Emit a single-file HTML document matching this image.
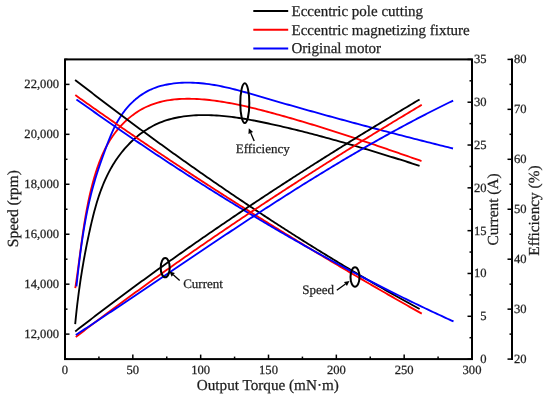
<!DOCTYPE html>
<html><head><meta charset="utf-8"><style>
html,body{margin:0;padding:0;background:#fff;width:550px;height:399px;overflow:hidden}
svg{display:block;text-rendering:geometricPrecision}
</style></head><body>
<svg width="550" height="399" viewBox="0 0 550 399">
<rect width="550" height="399" fill="#fff"/>
<path d="M75.19,324.18 L75.43,321.66 L75.68,319.15 L75.93,316.65 L76.19,314.15 L76.46,311.66 L76.73,309.18 L77.01,306.70 L77.30,304.22 L77.60,301.75 L77.90,299.28 L78.21,296.82 L78.53,294.36 L78.85,291.91 L79.19,289.45 L79.53,287.01 L79.88,284.56 L80.23,282.12 L80.60,279.67 L80.97,277.23 L81.35,274.80 L81.74,272.36 L82.13,269.93 L82.54,267.49 L82.95,265.06 L83.37,262.63 L83.80,260.20 L84.24,257.76 L84.68,255.33 L85.14,252.90 L85.60,250.47 L86.07,248.03 L86.55,245.60 L87.04,243.16 L87.54,240.72 L88.05,238.28 L88.57,235.84 L89.09,233.39 L89.63,230.95 L90.17,228.50 L90.72,226.04 L91.29,223.59 L91.87,221.13 L92.46,218.68 L93.06,216.23 L93.69,213.78 L94.33,211.33 L94.99,208.89 L95.67,206.45 L96.38,204.03 L97.10,201.61 L97.86,199.20 L98.63,196.79 L99.44,194.40 L100.27,192.03 L101.14,189.66 L102.03,187.31 L102.96,184.98 L103.92,182.66 L104.92,180.36 L105.95,178.07 L107.02,175.81 L108.13,173.56 L109.29,171.34 L110.48,169.14 L111.72,166.97 L112.99,164.82 L114.31,162.69 L115.68,160.60 L117.08,158.53 L118.52,156.50 L120.01,154.49 L121.53,152.53 L123.10,150.60 L124.70,148.70 L126.34,146.84 L128.02,145.03 L129.74,143.26 L131.50,141.53 L133.29,139.84 L135.12,138.20 L136.99,136.61 L138.89,135.07 L140.82,133.58 L142.80,132.14 L144.80,130.76 L146.84,129.43 L148.92,128.16 L151.03,126.95 L153.17,125.79 L155.34,124.70 L157.55,123.68 L159.78,122.71 L162.05,121.82 L164.35,120.98 L166.68,120.21 L169.03,119.50 L171.41,118.86 L173.81,118.26 L176.23,117.73 L178.67,117.25 L181.13,116.82 L183.61,116.45 L186.10,116.12 L188.60,115.85 L191.12,115.62 L193.65,115.43 L196.18,115.29 L198.72,115.19 L201.27,115.13 L203.82,115.11 L206.37,115.12 L208.92,115.17 L211.48,115.26 L214.02,115.37 L216.57,115.52 L219.10,115.69 L221.63,115.89 L224.15,116.12 L226.67,116.37 L229.17,116.65 L231.67,116.95 L234.16,117.27 L236.65,117.61 L239.12,117.98 L241.60,118.36 L244.06,118.76 L246.53,119.17 L248.98,119.60 L251.44,120.05 L253.88,120.51 L256.33,120.99 L258.77,121.47 L261.21,121.97 L263.64,122.47 L266.07,122.99 L268.50,123.51 L270.93,124.04 L273.36,124.58 L275.78,125.12 L278.21,125.67 L280.63,126.22 L283.05,126.79 L285.47,127.35 L287.89,127.92 L290.30,128.50 L292.72,129.08 L295.13,129.67 L297.55,130.27 L299.96,130.87 L302.37,131.47 L304.78,132.08 L307.18,132.70 L309.59,133.32 L312.00,133.94 L314.40,134.57 L316.80,135.20 L319.21,135.84 L321.61,136.49 L324.01,137.13 L326.41,137.79 L328.81,138.44 L331.20,139.10 L333.60,139.77 L336.00,140.44 L338.39,141.11 L340.79,141.79 L343.18,142.47 L345.57,143.15 L347.96,143.84 L350.36,144.53 L352.75,145.23 L355.14,145.93 L357.53,146.63 L359.92,147.34 L362.30,148.04 L364.69,148.76 L367.08,149.47 L369.47,150.19 L371.85,150.91 L374.24,151.63 L376.63,152.36 L379.01,153.09 L381.40,153.82 L383.78,154.55 L386.17,155.28 L388.55,156.02 L390.94,156.76 L393.32,157.50 L395.71,158.25 L398.09,159.00 L400.48,159.74 L402.86,160.49 L405.25,161.24 L407.63,162.00 L410.01,162.75 L412.40,163.51 L414.78,164.26 L417.17,165.02 L419.55,165.78" fill="none" stroke="#000" stroke-width="1.85" stroke-linejoin="round"/>
<path d="M75.27,288.10 L75.65,285.68 L76.01,283.26 L76.37,280.84 L76.72,278.42 L77.07,276.00 L77.40,273.58 L77.74,271.16 L78.07,268.74 L78.40,266.31 L78.72,263.89 L79.04,261.47 L79.36,259.05 L79.68,256.63 L80.00,254.20 L80.32,251.78 L80.64,249.36 L80.97,246.94 L81.29,244.52 L81.62,242.10 L81.96,239.68 L82.30,237.26 L82.64,234.84 L82.99,232.42 L83.35,230.00 L83.72,227.58 L84.09,225.17 L84.47,222.75 L84.87,220.33 L85.27,217.92 L85.68,215.51 L86.11,213.09 L86.55,210.68 L87.00,208.27 L87.47,205.86 L87.95,203.45 L88.44,201.05 L88.96,198.64 L89.48,196.24 L90.03,193.83 L90.59,191.43 L91.18,189.03 L91.78,186.63 L92.40,184.24 L93.04,181.84 L93.71,179.45 L94.40,177.06 L95.11,174.67 L95.84,172.29 L96.61,169.92 L97.40,167.55 L98.23,165.20 L99.08,162.86 L99.97,160.53 L100.89,158.23 L101.86,155.94 L102.86,153.67 L103.90,151.42 L104.98,149.20 L106.10,147.00 L107.27,144.83 L108.49,142.70 L109.75,140.59 L111.07,138.51 L112.43,136.47 L113.84,134.47 L115.30,132.51 L116.81,130.58 L118.37,128.70 L119.96,126.87 L121.61,125.07 L123.30,123.33 L125.03,121.63 L126.80,119.99 L128.61,118.40 L130.46,116.86 L132.36,115.38 L134.29,113.96 L136.26,112.60 L138.26,111.30 L140.30,110.06 L142.38,108.89 L144.48,107.79 L146.63,106.75 L148.80,105.79 L151.01,104.89 L153.24,104.07 L155.50,103.31 L157.79,102.61 L160.11,101.99 L162.45,101.42 L164.81,100.91 L167.19,100.46 L169.59,100.07 L172.01,99.73 L174.44,99.45 L176.89,99.22 L179.36,99.03 L181.83,98.90 L184.32,98.81 L186.82,98.76 L189.32,98.76 L191.83,98.80 L194.35,98.87 L196.87,98.98 L199.39,99.13 L201.91,99.31 L204.43,99.52 L206.95,99.77 L209.46,100.04 L211.97,100.33 L214.47,100.65 L216.97,101.00 L219.45,101.36 L221.93,101.74 L224.39,102.15 L226.84,102.56 L229.28,103.00 L231.72,103.45 L234.14,103.92 L236.55,104.40 L238.96,104.90 L241.36,105.41 L243.75,105.93 L246.14,106.47 L248.52,107.02 L250.90,107.58 L253.27,108.15 L255.63,108.72 L258.00,109.31 L260.36,109.91 L262.71,110.52 L265.07,111.13 L267.42,111.75 L269.78,112.38 L272.13,113.01 L274.48,113.65 L276.83,114.29 L279.18,114.94 L281.53,115.59 L283.88,116.25 L286.23,116.91 L288.58,117.58 L290.93,118.25 L293.28,118.93 L295.62,119.61 L297.97,120.30 L300.32,120.99 L302.66,121.69 L305.01,122.39 L307.35,123.09 L309.70,123.80 L312.04,124.51 L314.39,125.23 L316.73,125.95 L319.07,126.68 L321.41,127.40 L323.75,128.14 L326.09,128.87 L328.43,129.61 L330.77,130.35 L333.11,131.10 L335.45,131.85 L337.79,132.60 L340.12,133.36 L342.46,134.11 L344.80,134.87 L347.13,135.64 L349.47,136.40 L351.80,137.17 L354.13,137.94 L356.47,138.72 L358.80,139.49 L361.13,140.27 L363.46,141.05 L365.79,141.84 L368.12,142.62 L370.45,143.41 L372.78,144.20 L375.10,144.99 L377.43,145.78 L379.75,146.57 L382.08,147.37 L384.40,148.17 L386.73,148.96 L389.05,149.76 L391.37,150.56 L393.69,151.36 L396.01,152.17 L398.33,152.97 L400.65,153.77 L402.97,154.58 L405.29,155.38 L407.61,156.19 L409.92,157.00 L412.24,157.80 L414.55,158.61 L416.86,159.42 L419.18,160.22 L421.49,161.03" fill="none" stroke="#f00" stroke-width="1.85" stroke-linejoin="round"/>
<path d="M76.44,286.29 L76.73,283.66 L77.02,281.03 L77.31,278.40 L77.61,275.76 L77.91,273.12 L78.21,270.48 L78.52,267.84 L78.83,265.20 L79.15,262.56 L79.48,259.91 L79.81,257.27 L80.15,254.63 L80.50,251.98 L80.85,249.34 L81.22,246.70 L81.59,244.05 L81.97,241.41 L82.36,238.77 L82.76,236.14 L83.18,233.50 L83.60,230.87 L84.04,228.24 L84.49,225.61 L84.95,222.99 L85.42,220.37 L85.91,217.75 L86.42,215.14 L86.93,212.53 L87.47,209.92 L88.02,207.32 L88.58,204.72 L89.16,202.13 L89.76,199.55 L90.38,196.97 L91.01,194.40 L91.67,191.83 L92.34,189.27 L93.03,186.71 L93.74,184.17 L94.48,181.63 L95.23,179.10 L96.01,176.57 L96.80,174.05 L97.61,171.54 L98.44,169.03 L99.29,166.52 L100.15,164.01 L101.03,161.50 L101.91,159.00 L102.81,156.49 L103.72,153.97 L104.63,151.45 L105.56,148.93 L106.49,146.40 L107.44,143.87 L108.40,141.35 L109.39,138.83 L110.40,136.33 L111.45,133.84 L112.54,131.37 L113.66,128.92 L114.84,126.50 L116.06,124.12 L117.35,121.77 L118.69,119.46 L120.10,117.20 L121.57,114.98 L123.11,112.82 L124.70,110.70 L126.36,108.65 L128.08,106.65 L129.86,104.72 L131.69,102.85 L133.59,101.06 L135.54,99.33 L137.56,97.68 L139.63,96.11 L141.75,94.62 L143.93,93.21 L146.17,91.89 L148.46,90.66 L150.80,89.53 L153.20,88.49 L155.65,87.55 L158.15,86.71 L160.70,85.96 L163.28,85.30 L165.89,84.72 L168.53,84.22 L171.19,83.80 L173.87,83.44 L176.57,83.16 L179.27,82.93 L181.99,82.78 L184.71,82.68 L187.44,82.64 L190.17,82.66 L192.89,82.74 L195.61,82.86 L198.31,83.04 L201.01,83.26 L203.69,83.53 L206.35,83.84 L209.01,84.19 L211.65,84.58 L214.28,85.00 L216.89,85.46 L219.50,85.96 L222.10,86.48 L224.69,87.04 L227.27,87.62 L229.84,88.22 L232.41,88.85 L234.97,89.50 L237.52,90.16 L240.07,90.85 L242.62,91.54 L245.16,92.25 L247.70,92.97 L250.24,93.70 L252.78,94.44 L255.32,95.18 L257.85,95.92 L260.39,96.66 L262.93,97.41 L265.47,98.15 L268.01,98.89 L270.56,99.62 L273.10,100.36 L275.65,101.10 L278.20,101.83 L280.75,102.56 L283.30,103.30 L285.85,104.03 L288.40,104.76 L290.96,105.48 L293.51,106.21 L296.07,106.93 L298.63,107.66 L301.18,108.38 L303.74,109.10 L306.31,109.82 L308.87,110.54 L311.43,111.26 L313.99,111.97 L316.56,112.69 L319.12,113.40 L321.69,114.11 L324.26,114.82 L326.83,115.53 L329.40,116.24 L331.96,116.95 L334.53,117.65 L337.11,118.35 L339.68,119.06 L342.25,119.76 L344.82,120.46 L347.40,121.15 L349.97,121.85 L352.54,122.54 L355.12,123.24 L357.69,123.93 L360.27,124.62 L362.85,125.31 L365.42,126.00 L368.00,126.68 L370.57,127.37 L373.15,128.05 L375.73,128.74 L378.31,129.42 L380.88,130.09 L383.46,130.77 L386.04,131.45 L388.62,132.12 L391.20,132.80 L393.77,133.47 L396.35,134.14 L398.93,134.81 L401.51,135.47 L404.09,136.14 L406.66,136.80 L409.24,137.47 L411.82,138.13 L414.40,138.79 L416.97,139.44 L419.55,140.10 L422.13,140.76 L424.70,141.41 L427.28,142.06 L429.85,142.71 L432.43,143.36 L435.00,144.01 L437.57,144.65 L440.15,145.30 L442.72,145.94 L445.29,146.58 L447.86,147.22 L450.43,147.86 L453.01,148.49" fill="none" stroke="#00f" stroke-width="1.85" stroke-linejoin="round"/>
<path d="M75.08,79.91 L76.72,81.18 L78.37,82.46 L80.01,83.73 L81.66,85.00 L83.31,86.27 L84.96,87.54 L86.60,88.81 L88.25,90.08 L89.90,91.35 L91.56,92.61 L93.21,93.88 L94.86,95.14 L96.51,96.40 L98.17,97.67 L99.82,98.93 L101.48,100.19 L103.13,101.45 L104.79,102.71 L106.45,103.96 L108.11,105.22 L109.77,106.47 L111.43,107.73 L113.09,108.98 L114.75,110.23 L116.42,111.49 L118.08,112.74 L119.74,113.99 L121.41,115.23 L123.08,116.48 L124.74,117.73 L126.41,118.97 L128.08,120.22 L129.75,121.46 L131.42,122.70 L133.09,123.94 L134.76,125.18 L136.44,126.42 L138.11,127.66 L139.79,128.89 L141.46,130.13 L143.14,131.36 L144.82,132.60 L146.49,133.83 L148.17,135.06 L149.85,136.29 L151.53,137.52 L153.21,138.75 L154.90,139.97 L156.58,141.20 L158.26,142.42 L159.95,143.65 L161.63,144.87 L163.32,146.09 L165.01,147.31 L166.70,148.53 L168.39,149.74 L170.08,150.96 L171.77,152.17 L173.46,153.39 L175.15,154.60 L176.84,155.81 L178.54,157.02 L180.23,158.23 L181.93,159.44 L183.63,160.64 L185.33,161.85 L187.02,163.05 L188.72,164.26 L190.42,165.46 L192.13,166.66 L193.83,167.86 L195.53,169.05 L197.24,170.25 L198.94,171.45 L200.65,172.64 L202.35,173.83 L204.06,175.02 L205.77,176.21 L207.48,177.40 L209.19,178.59 L210.90,179.77 L212.61,180.96 L214.33,182.14 L216.04,183.33 L217.76,184.51 L219.47,185.69 L221.19,186.86 L222.91,188.04 L224.62,189.22 L226.34,190.39 L228.06,191.56 L229.79,192.73 L231.51,193.90 L233.23,195.07 L234.96,196.24 L236.68,197.40 L238.41,198.57 L240.13,199.73 L241.86,200.89 L243.59,202.05 L245.32,203.21 L247.05,204.37 L248.78,205.52 L250.51,206.68 L252.25,207.83 L253.98,208.98 L255.72,210.13 L257.45,211.28 L259.19,212.43 L260.93,213.58 L262.67,214.72 L264.41,215.86 L266.15,217.00 L267.89,218.14 L269.64,219.28 L271.38,220.42 L273.12,221.55 L274.87,222.69 L276.62,223.82 L278.36,224.95 L280.11,226.08 L281.86,227.21 L283.61,228.33 L285.37,229.46 L287.12,230.58 L288.87,231.70 L290.63,232.82 L292.38,233.94 L294.14,235.06 L295.90,236.17 L297.65,237.29 L299.41,238.40 L301.17,239.51 L302.94,240.62 L304.70,241.73 L306.46,242.83 L308.23,243.94 L309.99,245.04 L311.76,246.14 L313.53,247.24 L315.29,248.34 L317.06,249.44 L318.83,250.53 L320.61,251.62 L322.38,252.71 L324.15,253.80 L325.93,254.89 L327.70,255.98 L329.48,257.06 L331.26,258.15 L333.03,259.23 L334.81,260.31 L336.59,261.38 L338.38,262.46 L340.16,263.53 L341.94,264.61 L343.73,265.68 L345.51,266.75 L347.30,267.82 L349.09,268.88 L350.87,269.95 L352.66,271.01 L354.46,272.07 L356.25,273.13 L358.04,274.19 L359.83,275.24 L361.63,276.29 L363.42,277.35 L365.22,278.40 L367.02,279.45 L368.82,280.49 L370.62,281.54 L372.42,282.58 L374.22,283.62 L376.03,284.66 L377.83,285.70 L379.64,286.73 L381.44,287.77 L383.25,288.80 L385.06,289.83 L386.87,290.86 L388.68,291.89 L390.49,292.91 L392.30,293.93 L394.12,294.96 L395.93,295.97 L397.75,296.99 L399.56,298.01 L401.38,299.02 L403.20,300.03 L405.02,301.04 L406.84,302.05 L408.67,303.06 L410.49,304.06 L412.31,305.06 L414.14,306.06 L415.97,307.06 L417.80,308.06 L419.62,309.05" fill="none" stroke="#000" stroke-width="1.85" stroke-linejoin="round"/>
<path d="M75.32,95.07 L76.99,96.27 L78.67,97.46 L80.35,98.66 L82.03,99.85 L83.71,101.04 L85.39,102.23 L87.07,103.42 L88.75,104.61 L90.44,105.79 L92.12,106.98 L93.80,108.16 L95.49,109.35 L97.18,110.53 L98.86,111.71 L100.55,112.89 L102.24,114.07 L103.93,115.25 L105.62,116.43 L107.31,117.61 L109.00,118.78 L110.69,119.96 L112.38,121.13 L114.08,122.30 L115.77,123.47 L117.46,124.64 L119.16,125.81 L120.86,126.98 L122.55,128.15 L124.25,129.32 L125.95,130.48 L127.65,131.64 L129.35,132.81 L131.05,133.97 L132.75,135.13 L134.45,136.29 L136.15,137.45 L137.86,138.61 L139.56,139.76 L141.26,140.92 L142.97,142.08 L144.67,143.23 L146.38,144.38 L148.09,145.53 L149.80,146.68 L151.50,147.83 L153.21,148.98 L154.92,150.13 L156.63,151.28 L158.35,152.42 L160.06,153.57 L161.77,154.71 L163.48,155.85 L165.20,157.00 L166.91,158.14 L168.63,159.28 L170.34,160.42 L172.06,161.55 L173.78,162.69 L175.49,163.83 L177.21,164.96 L178.93,166.09 L180.65,167.23 L182.37,168.36 L184.09,169.49 L185.82,170.62 L187.54,171.75 L189.26,172.88 L190.99,174.00 L192.71,175.13 L194.43,176.25 L196.16,177.38 L197.89,178.50 L199.61,179.62 L201.34,180.74 L203.07,181.86 L204.80,182.98 L206.53,184.10 L208.26,185.22 L209.99,186.33 L211.72,187.45 L213.45,188.56 L215.19,189.68 L216.92,190.79 L218.65,191.90 L220.39,193.01 L222.12,194.12 L223.86,195.23 L225.59,196.34 L227.33,197.44 L229.07,198.55 L230.81,199.65 L232.55,200.76 L234.28,201.86 L236.02,202.96 L237.76,204.06 L239.51,205.16 L241.25,206.26 L242.99,207.36 L244.73,208.46 L246.48,209.55 L248.22,210.65 L249.97,211.74 L251.71,212.84 L253.46,213.93 L255.20,215.02 L256.95,216.11 L258.70,217.20 L260.45,218.29 L262.20,219.38 L263.94,220.46 L265.69,221.55 L267.45,222.64 L269.20,223.72 L270.95,224.80 L272.70,225.89 L274.45,226.97 L276.21,228.05 L277.96,229.13 L279.71,230.21 L281.47,231.28 L283.23,232.36 L284.98,233.44 L286.74,234.51 L288.50,235.59 L290.25,236.66 L292.01,237.73 L293.77,238.80 L295.53,239.87 L297.29,240.94 L299.05,242.01 L300.81,243.08 L302.57,244.15 L304.34,245.21 L306.10,246.28 L307.86,247.34 L309.63,248.41 L311.39,249.47 L313.16,250.53 L314.92,251.59 L316.69,252.65 L318.45,253.71 L320.22,254.77 L321.99,255.82 L323.76,256.88 L325.52,257.94 L327.29,258.99 L329.06,260.04 L330.83,261.10 L332.60,262.15 L334.38,263.20 L336.15,264.25 L337.92,265.30 L339.69,266.35 L341.47,267.40 L343.24,268.44 L345.01,269.49 L346.79,270.53 L348.56,271.58 L350.34,272.62 L352.12,273.66 L353.89,274.71 L355.67,275.75 L357.45,276.79 L359.23,277.83 L361.00,278.86 L362.78,279.90 L364.56,280.94 L366.34,281.97 L368.12,283.01 L369.90,284.04 L371.69,285.08 L373.47,286.11 L375.25,287.14 L377.03,288.17 L378.82,289.20 L380.60,290.23 L382.39,291.26 L384.17,292.28 L385.96,293.31 L387.74,294.34 L389.53,295.36 L391.32,296.39 L393.10,297.41 L394.89,298.43 L396.68,299.45 L398.47,300.47 L400.26,301.49 L402.05,302.51 L403.84,303.53 L405.63,304.55 L407.42,305.57 L409.21,306.58 L411.00,307.60 L412.79,308.61 L414.59,309.62 L416.38,310.64 L418.17,311.65 L419.97,312.66 L421.76,313.67" fill="none" stroke="#f00" stroke-width="1.85" stroke-linejoin="round"/>
<path d="M76.45,99.39 L78.24,100.67 L80.04,101.95 L81.83,103.22 L83.62,104.50 L85.42,105.77 L87.21,107.04 L89.01,108.31 L90.81,109.58 L92.60,110.85 L94.40,112.12 L96.20,113.38 L98.01,114.65 L99.81,115.91 L101.61,117.17 L103.42,118.43 L105.22,119.69 L107.03,120.95 L108.84,122.21 L110.64,123.46 L112.45,124.72 L114.26,125.97 L116.08,127.22 L117.89,128.47 L119.70,129.72 L121.52,130.97 L123.33,132.21 L125.15,133.46 L126.97,134.70 L128.79,135.94 L130.60,137.19 L132.43,138.42 L134.25,139.66 L136.07,140.90 L137.89,142.13 L139.72,143.37 L141.54,144.60 L143.37,145.83 L145.20,147.06 L147.03,148.29 L148.86,149.51 L150.69,150.74 L152.52,151.96 L154.35,153.18 L156.19,154.40 L158.02,155.62 L159.86,156.84 L161.69,158.06 L163.53,159.27 L165.37,160.48 L167.21,161.69 L169.05,162.90 L170.89,164.11 L172.74,165.32 L174.58,166.52 L176.43,167.73 L178.27,168.93 L180.12,170.13 L181.97,171.33 L183.82,172.53 L185.67,173.72 L187.52,174.92 L189.37,176.11 L191.23,177.30 L193.08,178.49 L194.94,179.68 L196.79,180.86 L198.65,182.05 L200.51,183.23 L202.37,184.41 L204.23,185.59 L206.09,186.77 L207.96,187.95 L209.82,189.12 L211.69,190.29 L213.55,191.46 L215.42,192.63 L217.29,193.80 L219.16,194.97 L221.03,196.13 L222.90,197.29 L224.77,198.46 L226.65,199.61 L228.52,200.77 L230.40,201.93 L232.27,203.08 L234.15,204.23 L236.03,205.38 L237.91,206.53 L239.79,207.68 L241.68,208.83 L243.56,209.97 L245.44,211.11 L247.33,212.25 L249.22,213.39 L251.10,214.52 L252.99,215.66 L254.88,216.79 L256.77,217.92 L258.66,219.05 L260.56,220.18 L262.45,221.30 L264.35,222.42 L266.24,223.55 L268.14,224.67 L270.04,225.78 L271.94,226.90 L273.84,228.01 L275.74,229.12 L277.64,230.23 L279.55,231.34 L281.45,232.45 L283.36,233.55 L285.27,234.65 L287.18,235.75 L289.09,236.85 L291.00,237.95 L292.91,239.04 L294.82,240.14 L296.73,241.23 L298.65,242.31 L300.57,243.40 L302.48,244.49 L304.40,245.57 L306.32,246.65 L308.24,247.73 L310.16,248.80 L312.09,249.88 L314.01,250.95 L315.94,252.02 L317.86,253.09 L319.79,254.15 L321.72,255.22 L323.65,256.28 L325.58,257.34 L327.51,258.40 L329.44,259.45 L331.38,260.51 L333.31,261.56 L335.25,262.61 L337.18,263.66 L339.12,264.70 L341.06,265.74 L343.00,266.78 L344.95,267.82 L346.89,268.86 L348.83,269.89 L350.78,270.93 L352.72,271.96 L354.67,272.98 L356.62,274.01 L358.57,275.03 L360.52,276.06 L362.47,277.07 L364.43,278.09 L366.38,279.11 L368.34,280.12 L370.29,281.13 L372.25,282.14 L374.21,283.14 L376.17,284.15 L378.13,285.15 L380.09,286.15 L382.06,287.14 L384.02,288.14 L385.99,289.13 L387.96,290.12 L389.92,291.11 L391.89,292.09 L393.86,293.08 L395.84,294.06 L397.81,295.03 L399.78,296.01 L401.76,296.98 L403.73,297.96 L405.71,298.92 L407.69,299.89 L409.67,300.86 L411.65,301.82 L413.63,302.78 L415.62,303.73 L417.60,304.69 L419.59,305.64 L421.57,306.59 L423.56,307.54 L425.55,308.48 L427.54,309.43 L429.53,310.37 L431.53,311.30 L433.52,312.24 L435.51,313.17 L437.51,314.10 L439.51,315.03 L441.51,315.96 L443.51,316.88 L445.51,317.80 L447.51,318.72 L449.51,319.63 L451.52,320.55 L453.52,321.46" fill="none" stroke="#00f" stroke-width="1.85" stroke-linejoin="round"/>
<path d="M75.25,331.40 L76.89,330.12 L78.54,328.84 L80.19,327.56 L81.84,326.28 L83.50,325.00 L85.15,323.72 L86.80,322.45 L88.46,321.18 L90.11,319.90 L91.77,318.63 L93.43,317.36 L95.09,316.09 L96.75,314.83 L98.41,313.56 L100.07,312.30 L101.74,311.03 L103.40,309.77 L105.06,308.51 L106.73,307.25 L108.40,305.99 L110.06,304.74 L111.73,303.48 L113.40,302.23 L115.07,300.97 L116.75,299.72 L118.42,298.47 L120.09,297.22 L121.77,295.98 L123.44,294.73 L125.12,293.49 L126.79,292.24 L128.47,291.00 L130.15,289.76 L131.83,288.52 L133.51,287.28 L135.19,286.05 L136.88,284.81 L138.56,283.58 L140.24,282.34 L141.93,281.11 L143.62,279.88 L145.30,278.65 L146.99,277.42 L148.68,276.19 L150.37,274.97 L152.06,273.74 L153.75,272.52 L155.45,271.30 L157.14,270.08 L158.83,268.86 L160.53,267.64 L162.23,266.42 L163.92,265.21 L165.62,263.99 L167.32,262.78 L169.02,261.57 L170.72,260.36 L172.42,259.15 L174.12,257.94 L175.82,256.73 L177.53,255.53 L179.23,254.32 L180.94,253.12 L182.65,251.92 L184.35,250.72 L186.06,249.52 L187.77,248.32 L189.48,247.12 L191.19,245.92 L192.90,244.73 L194.61,243.53 L196.33,242.34 L198.04,241.15 L199.75,239.96 L201.47,238.77 L203.19,237.58 L204.90,236.39 L206.62,235.21 L208.34,234.02 L210.06,232.84 L211.78,231.66 L213.50,230.48 L215.22,229.30 L216.94,228.12 L218.67,226.94 L220.39,225.76 L222.12,224.59 L223.84,223.41 L225.57,222.24 L227.30,221.07 L229.02,219.90 L230.75,218.73 L232.48,217.56 L234.21,216.39 L235.94,215.22 L237.68,214.06 L239.41,212.89 L241.14,211.73 L242.88,210.57 L244.61,209.41 L246.35,208.25 L248.08,207.09 L249.82,205.93 L251.56,204.77 L253.30,203.62 L255.03,202.46 L256.77,201.31 L258.51,200.16 L260.26,199.01 L262.00,197.86 L263.74,196.71 L265.48,195.56 L267.23,194.41 L268.97,193.27 L270.72,192.12 L272.47,190.98 L274.21,189.84 L275.96,188.69 L277.71,187.55 L279.46,186.41 L281.21,185.27 L282.96,184.14 L284.71,183.00 L286.46,181.86 L288.21,180.73 L289.97,179.60 L291.72,178.46 L293.48,177.33 L295.23,176.20 L296.99,175.07 L298.74,173.95 L300.50,172.82 L302.26,171.69 L304.02,170.57 L305.78,169.44 L307.53,168.32 L309.30,167.20 L311.06,166.07 L312.82,164.95 L314.58,163.83 L316.34,162.72 L318.11,161.60 L319.87,160.48 L321.64,159.37 L323.40,158.25 L325.17,157.14 L326.93,156.03 L328.70,154.92 L330.47,153.80 L332.24,152.69 L334.01,151.59 L335.78,150.48 L337.55,149.37 L339.32,148.27 L341.09,147.16 L342.86,146.06 L344.63,144.95 L346.41,143.85 L348.18,142.75 L349.96,141.65 L351.73,140.55 L353.51,139.45 L355.28,138.36 L357.06,137.26 L358.84,136.16 L360.61,135.07 L362.39,133.97 L364.17,132.88 L365.95,131.79 L367.73,130.70 L369.51,129.61 L371.29,128.52 L373.08,127.43 L374.86,126.34 L376.64,125.26 L378.42,124.17 L380.21,123.09 L381.99,122.00 L383.78,120.92 L385.56,119.84 L387.35,118.75 L389.14,117.67 L390.92,116.59 L392.71,115.52 L394.50,114.44 L396.29,113.36 L398.08,112.28 L399.87,111.21 L401.66,110.13 L403.45,109.06 L405.24,107.99 L407.03,106.92 L408.82,105.85 L410.61,104.78 L412.41,103.71 L414.20,102.64 L416.00,101.57 L417.79,100.50 L419.59,99.44" fill="none" stroke="#000" stroke-width="1.85" stroke-linejoin="round"/>
<path d="M75.77,337.00 L77.44,335.72 L79.10,334.45 L80.76,333.18 L82.43,331.91 L84.10,330.64 L85.76,329.37 L87.43,328.10 L89.10,326.83 L90.77,325.57 L92.44,324.30 L94.11,323.04 L95.79,321.78 L97.46,320.52 L99.13,319.26 L100.81,318.00 L102.49,316.75 L104.16,315.49 L105.84,314.24 L107.52,312.98 L109.20,311.73 L110.88,310.48 L112.56,309.23 L114.25,307.98 L115.93,306.73 L117.61,305.49 L119.30,304.24 L120.98,303.00 L122.67,301.76 L124.36,300.52 L126.05,299.28 L127.74,298.04 L129.43,296.80 L131.12,295.56 L132.81,294.33 L134.50,293.09 L136.20,291.86 L137.89,290.63 L139.59,289.40 L141.28,288.17 L142.98,286.94 L144.68,285.71 L146.37,284.49 L148.07,283.26 L149.77,282.04 L151.48,280.81 L153.18,279.59 L154.88,278.37 L156.58,277.15 L158.29,275.93 L159.99,274.72 L161.70,273.50 L163.41,272.29 L165.11,271.07 L166.82,269.86 L168.53,268.65 L170.24,267.44 L171.95,266.23 L173.66,265.02 L175.37,263.82 L177.09,262.61 L178.80,261.41 L180.52,260.20 L182.23,259.00 L183.95,257.80 L185.66,256.60 L187.38,255.40 L189.10,254.20 L190.82,253.00 L192.54,251.81 L194.26,250.61 L195.98,249.42 L197.70,248.23 L199.43,247.03 L201.15,245.84 L202.88,244.65 L204.60,243.47 L206.33,242.28 L208.05,241.09 L209.78,239.91 L211.51,238.72 L213.24,237.54 L214.97,236.36 L216.70,235.18 L218.43,234.00 L220.16,232.82 L221.89,231.64 L223.63,230.47 L225.36,229.29 L227.10,228.12 L228.83,226.94 L230.57,225.77 L232.31,224.60 L234.04,223.43 L235.78,222.26 L237.52,221.09 L239.26,219.92 L241.00,218.76 L242.74,217.59 L244.48,216.43 L246.23,215.26 L247.97,214.10 L249.71,212.94 L251.46,211.78 L253.20,210.62 L254.95,209.46 L256.69,208.31 L258.44,207.15 L260.19,206.00 L261.94,204.84 L263.69,203.69 L265.44,202.54 L267.19,201.39 L268.94,200.24 L270.69,199.09 L272.44,197.94 L274.20,196.79 L275.95,195.65 L277.71,194.50 L279.46,193.36 L281.22,192.21 L282.97,191.07 L284.73,189.93 L286.49,188.79 L288.25,187.65 L290.00,186.51 L291.76,185.38 L293.52,184.24 L295.29,183.11 L297.05,181.97 L298.81,180.84 L300.57,179.70 L302.33,178.57 L304.10,177.44 L305.86,176.31 L307.63,175.18 L309.39,174.06 L311.16,172.93 L312.93,171.80 L314.70,170.68 L316.46,169.56 L318.23,168.43 L320.00,167.31 L321.77,166.19 L323.54,165.07 L325.31,163.95 L327.08,162.83 L328.86,161.71 L330.63,160.60 L332.40,159.48 L334.18,158.37 L335.95,157.25 L337.73,156.14 L339.50,155.03 L341.28,153.92 L343.06,152.81 L344.83,151.70 L346.61,150.59 L348.39,149.48 L350.17,148.38 L351.95,147.27 L353.73,146.17 L355.51,145.06 L357.29,143.96 L359.07,142.86 L360.85,141.76 L362.64,140.66 L364.42,139.56 L366.20,138.46 L367.99,137.36 L369.77,136.26 L371.56,135.17 L373.34,134.07 L375.13,132.98 L376.92,131.89 L378.71,130.79 L380.49,129.70 L382.28,128.61 L384.07,127.52 L385.86,126.43 L387.65,125.34 L389.44,124.26 L391.23,123.17 L393.02,122.08 L394.82,121.00 L396.61,119.92 L398.40,118.83 L400.20,117.75 L401.99,116.67 L403.78,115.59 L405.58,114.51 L407.37,113.43 L409.17,112.35 L410.97,111.27 L412.76,110.20 L414.56,109.12 L416.36,108.05 L418.16,106.97 L419.96,105.90 L421.75,104.83" fill="none" stroke="#f00" stroke-width="1.85" stroke-linejoin="round"/>
<path d="M75.80,335.02 L77.67,333.79 L79.53,332.57 L81.40,331.34 L83.26,330.12 L85.13,328.89 L86.99,327.66 L88.85,326.43 L90.71,325.20 L92.57,323.97 L94.43,322.74 L96.29,321.51 L98.15,320.27 L100.01,319.04 L101.87,317.80 L103.73,316.56 L105.59,315.33 L107.45,314.09 L109.31,312.85 L111.16,311.61 L113.02,310.37 L114.88,309.13 L116.73,307.89 L118.59,306.65 L120.44,305.40 L122.30,304.16 L124.15,302.91 L126.01,301.67 L127.86,300.42 L129.72,299.18 L131.57,297.93 L133.43,296.69 L135.28,295.44 L137.13,294.19 L138.99,292.95 L140.84,291.70 L142.70,290.45 L144.55,289.20 L146.40,287.95 L148.25,286.70 L150.11,285.45 L151.96,284.20 L153.81,282.95 L155.67,281.70 L157.52,280.45 L159.37,279.20 L161.23,277.95 L163.08,276.70 L164.93,275.45 L166.78,274.20 L168.64,272.95 L170.49,271.70 L172.34,270.45 L174.20,269.20 L176.05,267.95 L177.90,266.70 L179.76,265.46 L181.61,264.21 L183.47,262.96 L185.32,261.71 L187.18,260.46 L189.03,259.21 L190.89,257.96 L192.74,256.72 L194.60,255.47 L196.45,254.22 L198.31,252.98 L200.16,251.73 L202.02,250.48 L203.88,249.24 L205.74,248.00 L207.59,246.75 L209.45,245.51 L211.31,244.27 L213.17,243.02 L215.03,241.78 L216.89,240.54 L218.75,239.30 L220.61,238.06 L222.47,236.82 L224.33,235.58 L226.19,234.35 L228.06,233.11 L229.92,231.87 L231.78,230.64 L233.65,229.41 L235.51,228.17 L237.38,226.94 L239.24,225.71 L241.11,224.48 L242.98,223.25 L244.84,222.02 L246.71,220.79 L248.58,219.57 L250.45,218.34 L252.32,217.12 L254.19,215.90 L256.06,214.68 L257.94,213.45 L259.81,212.24 L261.68,211.02 L263.56,209.80 L265.43,208.59 L267.31,207.37 L269.19,206.16 L271.06,204.95 L272.94,203.74 L274.82,202.53 L276.70,201.32 L278.58,200.12 L280.47,198.91 L282.35,197.71 L284.23,196.51 L286.12,195.31 L288.00,194.11 L289.89,192.91 L291.78,191.72 L293.67,190.53 L295.56,189.33 L297.45,188.14 L299.34,186.96 L301.23,185.77 L303.13,184.58 L305.02,183.40 L306.92,182.22 L308.81,181.04 L310.71,179.86 L312.61,178.69 L314.51,177.52 L316.41,176.34 L318.31,175.17 L320.22,174.01 L322.12,172.84 L324.03,171.68 L325.94,170.52 L327.85,169.36 L329.76,168.20 L331.67,167.04 L333.58,165.89 L335.49,164.74 L337.41,163.59 L339.32,162.44 L341.24,161.30 L343.16,160.16 L345.08,159.02 L347.00,157.88 L348.92,156.75 L350.85,155.61 L352.77,154.48 L354.70,153.36 L356.63,152.23 L358.56,151.11 L360.49,149.99 L362.42,148.87 L364.36,147.75 L366.29,146.64 L368.23,145.53 L370.17,144.42 L372.11,143.32 L374.05,142.22 L376.00,141.12 L377.94,140.02 L379.89,138.93 L381.84,137.83 L383.79,136.75 L385.74,135.66 L387.69,134.58 L389.65,133.50 L391.60,132.42 L393.56,131.35 L395.52,130.27 L397.48,129.21 L399.45,128.14 L401.41,127.08 L403.38,126.02 L405.35,124.96 L407.32,123.91 L409.29,122.86 L411.26,121.81 L413.24,120.77 L415.22,119.73 L417.19,118.69 L419.18,117.65 L421.16,116.62 L423.14,115.60 L425.13,114.57 L427.12,113.55 L429.11,112.53 L431.10,111.52 L433.10,110.51 L435.09,109.50 L437.09,108.49 L439.09,107.49 L441.10,106.50 L443.10,105.50 L445.11,104.51 L447.12,103.52 L449.13,102.54 L451.14,101.56 L453.15,100.59" fill="none" stroke="#00f" stroke-width="1.85" stroke-linejoin="round"/>
<rect x="65" y="59.4" width="407" height="299.70000000000005" fill="none" stroke="#000" stroke-width="2"/>
<line x1="65.00" y1="359.1" x2="65.00" y2="354.6" stroke="#000" stroke-width="1.5"/>
<text x="65.00" y="374.3" text-anchor="middle" font-size="12.6" font-family="Liberation Serif, Times New Roman, serif" fill="#1e1e1e" stroke="#1e1e1e" stroke-width="0.25">0</text>
<line x1="98.92" y1="359.1" x2="98.92" y2="356.6" stroke="#000" stroke-width="1.5"/>
<line x1="132.83" y1="359.1" x2="132.83" y2="354.6" stroke="#000" stroke-width="1.5"/>
<text x="132.83" y="374.3" text-anchor="middle" font-size="12.6" font-family="Liberation Serif, Times New Roman, serif" fill="#1e1e1e" stroke="#1e1e1e" stroke-width="0.25">50</text>
<line x1="166.75" y1="359.1" x2="166.75" y2="356.6" stroke="#000" stroke-width="1.5"/>
<line x1="200.67" y1="359.1" x2="200.67" y2="354.6" stroke="#000" stroke-width="1.5"/>
<text x="200.67" y="374.3" text-anchor="middle" font-size="12.6" font-family="Liberation Serif, Times New Roman, serif" fill="#1e1e1e" stroke="#1e1e1e" stroke-width="0.25">100</text>
<line x1="234.58" y1="359.1" x2="234.58" y2="356.6" stroke="#000" stroke-width="1.5"/>
<line x1="268.50" y1="359.1" x2="268.50" y2="354.6" stroke="#000" stroke-width="1.5"/>
<text x="268.50" y="374.3" text-anchor="middle" font-size="12.6" font-family="Liberation Serif, Times New Roman, serif" fill="#1e1e1e" stroke="#1e1e1e" stroke-width="0.25">150</text>
<line x1="302.42" y1="359.1" x2="302.42" y2="356.6" stroke="#000" stroke-width="1.5"/>
<line x1="336.33" y1="359.1" x2="336.33" y2="354.6" stroke="#000" stroke-width="1.5"/>
<text x="336.33" y="374.3" text-anchor="middle" font-size="12.6" font-family="Liberation Serif, Times New Roman, serif" fill="#1e1e1e" stroke="#1e1e1e" stroke-width="0.25">200</text>
<line x1="370.25" y1="359.1" x2="370.25" y2="356.6" stroke="#000" stroke-width="1.5"/>
<line x1="404.17" y1="359.1" x2="404.17" y2="354.6" stroke="#000" stroke-width="1.5"/>
<text x="404.17" y="374.3" text-anchor="middle" font-size="12.6" font-family="Liberation Serif, Times New Roman, serif" fill="#1e1e1e" stroke="#1e1e1e" stroke-width="0.25">250</text>
<line x1="438.08" y1="359.1" x2="438.08" y2="356.6" stroke="#000" stroke-width="1.5"/>
<line x1="472.00" y1="359.1" x2="472.00" y2="354.6" stroke="#000" stroke-width="1.5"/>
<text x="472.00" y="374.3" text-anchor="middle" font-size="12.6" font-family="Liberation Serif, Times New Roman, serif" fill="#1e1e1e" stroke="#1e1e1e" stroke-width="0.25">300</text>
<line x1="65" y1="359.10" x2="67.5" y2="359.10" stroke="#000" stroke-width="1.5"/>
<line x1="65" y1="334.12" x2="69.5" y2="334.12" stroke="#000" stroke-width="1.5"/>
<text x="59" y="338.12" text-anchor="end" font-size="12.6" font-family="Liberation Serif, Times New Roman, serif" fill="#1e1e1e" stroke="#1e1e1e" stroke-width="0.25">12,000</text>
<line x1="65" y1="309.15" x2="67.5" y2="309.15" stroke="#000" stroke-width="1.5"/>
<line x1="65" y1="284.18" x2="69.5" y2="284.18" stroke="#000" stroke-width="1.5"/>
<text x="59" y="288.18" text-anchor="end" font-size="12.6" font-family="Liberation Serif, Times New Roman, serif" fill="#1e1e1e" stroke="#1e1e1e" stroke-width="0.25">14,000</text>
<line x1="65" y1="259.20" x2="67.5" y2="259.20" stroke="#000" stroke-width="1.5"/>
<line x1="65" y1="234.23" x2="69.5" y2="234.23" stroke="#000" stroke-width="1.5"/>
<text x="59" y="238.23" text-anchor="end" font-size="12.6" font-family="Liberation Serif, Times New Roman, serif" fill="#1e1e1e" stroke="#1e1e1e" stroke-width="0.25">16,000</text>
<line x1="65" y1="209.25" x2="67.5" y2="209.25" stroke="#000" stroke-width="1.5"/>
<line x1="65" y1="184.27" x2="69.5" y2="184.27" stroke="#000" stroke-width="1.5"/>
<text x="59" y="188.27" text-anchor="end" font-size="12.6" font-family="Liberation Serif, Times New Roman, serif" fill="#1e1e1e" stroke="#1e1e1e" stroke-width="0.25">18,000</text>
<line x1="65" y1="159.30" x2="67.5" y2="159.30" stroke="#000" stroke-width="1.5"/>
<line x1="65" y1="134.32" x2="69.5" y2="134.32" stroke="#000" stroke-width="1.5"/>
<text x="59" y="138.32" text-anchor="end" font-size="12.6" font-family="Liberation Serif, Times New Roman, serif" fill="#1e1e1e" stroke="#1e1e1e" stroke-width="0.25">20,000</text>
<line x1="65" y1="109.35" x2="67.5" y2="109.35" stroke="#000" stroke-width="1.5"/>
<line x1="65" y1="84.38" x2="69.5" y2="84.38" stroke="#000" stroke-width="1.5"/>
<text x="59" y="88.38" text-anchor="end" font-size="12.6" font-family="Liberation Serif, Times New Roman, serif" fill="#1e1e1e" stroke="#1e1e1e" stroke-width="0.25">22,000</text>
<line x1="65" y1="59.40" x2="67.5" y2="59.40" stroke="#000" stroke-width="1.5"/>
<line x1="472" y1="359.10" x2="467.5" y2="359.10" stroke="#000" stroke-width="1.5"/>
<text x="486.5" y="363.10" text-anchor="end" font-size="12.6" font-family="Liberation Serif, Times New Roman, serif" fill="#1e1e1e" stroke="#1e1e1e" stroke-width="0.25">0</text>
<line x1="472" y1="337.69" x2="469.5" y2="337.69" stroke="#000" stroke-width="1.5"/>
<line x1="472" y1="316.29" x2="467.5" y2="316.29" stroke="#000" stroke-width="1.5"/>
<text x="486.5" y="320.29" text-anchor="end" font-size="12.6" font-family="Liberation Serif, Times New Roman, serif" fill="#1e1e1e" stroke="#1e1e1e" stroke-width="0.25">5</text>
<line x1="472" y1="294.88" x2="469.5" y2="294.88" stroke="#000" stroke-width="1.5"/>
<line x1="472" y1="273.47" x2="467.5" y2="273.47" stroke="#000" stroke-width="1.5"/>
<text x="486.5" y="277.47" text-anchor="end" font-size="12.6" font-family="Liberation Serif, Times New Roman, serif" fill="#1e1e1e" stroke="#1e1e1e" stroke-width="0.25">10</text>
<line x1="472" y1="252.06" x2="469.5" y2="252.06" stroke="#000" stroke-width="1.5"/>
<line x1="472" y1="230.66" x2="467.5" y2="230.66" stroke="#000" stroke-width="1.5"/>
<text x="486.5" y="234.66" text-anchor="end" font-size="12.6" font-family="Liberation Serif, Times New Roman, serif" fill="#1e1e1e" stroke="#1e1e1e" stroke-width="0.25">15</text>
<line x1="472" y1="209.25" x2="469.5" y2="209.25" stroke="#000" stroke-width="1.5"/>
<line x1="472" y1="187.84" x2="467.5" y2="187.84" stroke="#000" stroke-width="1.5"/>
<text x="486.5" y="191.84" text-anchor="end" font-size="12.6" font-family="Liberation Serif, Times New Roman, serif" fill="#1e1e1e" stroke="#1e1e1e" stroke-width="0.25">20</text>
<line x1="472" y1="166.44" x2="469.5" y2="166.44" stroke="#000" stroke-width="1.5"/>
<line x1="472" y1="145.03" x2="467.5" y2="145.03" stroke="#000" stroke-width="1.5"/>
<text x="486.5" y="149.03" text-anchor="end" font-size="12.6" font-family="Liberation Serif, Times New Roman, serif" fill="#1e1e1e" stroke="#1e1e1e" stroke-width="0.25">25</text>
<line x1="472" y1="123.62" x2="469.5" y2="123.62" stroke="#000" stroke-width="1.5"/>
<line x1="472" y1="102.21" x2="467.5" y2="102.21" stroke="#000" stroke-width="1.5"/>
<text x="486.5" y="106.21" text-anchor="end" font-size="12.6" font-family="Liberation Serif, Times New Roman, serif" fill="#1e1e1e" stroke="#1e1e1e" stroke-width="0.25">30</text>
<line x1="472" y1="80.81" x2="469.5" y2="80.81" stroke="#000" stroke-width="1.5"/>
<line x1="472" y1="59.40" x2="467.5" y2="59.40" stroke="#000" stroke-width="1.5"/>
<text x="486.5" y="63.40" text-anchor="end" font-size="12.6" font-family="Liberation Serif, Times New Roman, serif" fill="#1e1e1e" stroke="#1e1e1e" stroke-width="0.25">35</text>
<line x1="512" y1="58.4" x2="512" y2="360.1" stroke="#000" stroke-width="2"/>
<line x1="512" y1="359.10" x2="507.5" y2="359.10" stroke="#000" stroke-width="1.5"/>
<text x="514" y="363.10" text-anchor="start" font-size="12.6" font-family="Liberation Serif, Times New Roman, serif" fill="#1e1e1e" stroke="#1e1e1e" stroke-width="0.25">20</text>
<line x1="512" y1="334.12" x2="509.5" y2="334.12" stroke="#000" stroke-width="1.5"/>
<line x1="512" y1="309.15" x2="507.5" y2="309.15" stroke="#000" stroke-width="1.5"/>
<text x="514" y="313.15" text-anchor="start" font-size="12.6" font-family="Liberation Serif, Times New Roman, serif" fill="#1e1e1e" stroke="#1e1e1e" stroke-width="0.25">30</text>
<line x1="512" y1="284.18" x2="509.5" y2="284.18" stroke="#000" stroke-width="1.5"/>
<line x1="512" y1="259.20" x2="507.5" y2="259.20" stroke="#000" stroke-width="1.5"/>
<text x="514" y="263.20" text-anchor="start" font-size="12.6" font-family="Liberation Serif, Times New Roman, serif" fill="#1e1e1e" stroke="#1e1e1e" stroke-width="0.25">40</text>
<line x1="512" y1="234.23" x2="509.5" y2="234.23" stroke="#000" stroke-width="1.5"/>
<line x1="512" y1="209.25" x2="507.5" y2="209.25" stroke="#000" stroke-width="1.5"/>
<text x="514" y="213.25" text-anchor="start" font-size="12.6" font-family="Liberation Serif, Times New Roman, serif" fill="#1e1e1e" stroke="#1e1e1e" stroke-width="0.25">50</text>
<line x1="512" y1="184.28" x2="509.5" y2="184.28" stroke="#000" stroke-width="1.5"/>
<line x1="512" y1="159.30" x2="507.5" y2="159.30" stroke="#000" stroke-width="1.5"/>
<text x="514" y="163.30" text-anchor="start" font-size="12.6" font-family="Liberation Serif, Times New Roman, serif" fill="#1e1e1e" stroke="#1e1e1e" stroke-width="0.25">60</text>
<line x1="512" y1="134.32" x2="509.5" y2="134.32" stroke="#000" stroke-width="1.5"/>
<line x1="512" y1="109.35" x2="507.5" y2="109.35" stroke="#000" stroke-width="1.5"/>
<text x="514" y="113.35" text-anchor="start" font-size="12.6" font-family="Liberation Serif, Times New Roman, serif" fill="#1e1e1e" stroke="#1e1e1e" stroke-width="0.25">70</text>
<line x1="512" y1="84.37" x2="509.5" y2="84.37" stroke="#000" stroke-width="1.5"/>
<line x1="512" y1="59.40" x2="507.5" y2="59.40" stroke="#000" stroke-width="1.5"/>
<text x="514" y="63.40" text-anchor="start" font-size="12.6" font-family="Liberation Serif, Times New Roman, serif" fill="#1e1e1e" stroke="#1e1e1e" stroke-width="0.25">80</text>
<text x="267.8" y="389.8" text-anchor="middle" font-size="15.2" font-family="Liberation Serif, Times New Roman, serif" fill="#1e1e1e" stroke="#1e1e1e" stroke-width="0.25">Output Torque (mN·m)</text>
<text transform="translate(17.8,208.7) rotate(-90)" text-anchor="middle" font-size="15.5" font-family="Liberation Serif, Times New Roman, serif" fill="#1e1e1e" stroke="#1e1e1e" stroke-width="0.25">Speed (rpm)</text>
<text transform="translate(498.4,209.4) rotate(-90)" text-anchor="middle" font-size="15.4" font-family="Liberation Serif, Times New Roman, serif" fill="#1e1e1e" stroke="#1e1e1e" stroke-width="0.25">Current (A)</text>
<text transform="translate(538.6,210.6) rotate(-90)" text-anchor="middle" font-size="15.3" font-family="Liberation Serif, Times New Roman, serif" fill="#1e1e1e" stroke="#1e1e1e" stroke-width="0.25">Efficiency (%)</text>
<line x1="253.3" y1="11.00" x2="288.2" y2="11.00" stroke="#000" stroke-width="2"/>
<text x="291.5" y="16.00" font-size="15" font-family="Liberation Serif, Times New Roman, serif" fill="#1e1e1e" stroke="#1e1e1e" stroke-width="0.25">Eccentric pole cutting</text>
<line x1="253.3" y1="29.70" x2="288.2" y2="29.70" stroke="#f00" stroke-width="2"/>
<text x="291.5" y="34.70" font-size="15" font-family="Liberation Serif, Times New Roman, serif" fill="#1e1e1e" stroke="#1e1e1e" stroke-width="0.25">Eccentric magnetizing fixture</text>
<line x1="253.3" y1="48.40" x2="288.2" y2="48.40" stroke="#00f" stroke-width="2"/>
<text x="291.5" y="53.40" font-size="15" font-family="Liberation Serif, Times New Roman, serif" fill="#1e1e1e" stroke="#1e1e1e" stroke-width="0.25">Original motor</text>
<ellipse cx="244.8" cy="103.2" rx="4.5" ry="19.9" fill="none" stroke="#000" stroke-width="2"/>
<line x1="254.2" y1="141" x2="250.76" y2="132.90" stroke="#000" stroke-width="1.3"/>
<polygon points="248.8,128.3 253.06,131.92 248.46,133.88" fill="#000"/>
<text x="235.8" y="152.6" font-size="13" font-family="Liberation Serif, Times New Roman, serif" fill="#1e1e1e" stroke="#1e1e1e" stroke-width="0.25">Efficiency</text>
<ellipse cx="165.2" cy="267.7" rx="4.5" ry="9.6" fill="none" stroke="#000" stroke-width="2"/>
<line x1="179.7" y1="280.5" x2="173.25" y2="274.81" stroke="#000" stroke-width="1.3"/>
<polygon points="169.5,271.5 174.90,272.93 171.60,276.68" fill="#000"/>
<text x="183.2" y="287.9" font-size="13" font-family="Liberation Serif, Times New Roman, serif" fill="#1e1e1e" stroke="#1e1e1e" stroke-width="0.25">Current</text>
<ellipse cx="355" cy="277" rx="4.5" ry="9.7" fill="none" stroke="#000" stroke-width="2"/>
<line x1="336.8" y1="290.3" x2="345.45" y2="284.03" stroke="#000" stroke-width="1.3"/>
<polygon points="349.5,281.1 346.92,286.06 343.98,282.01" fill="#000"/>
<text x="302.2" y="293.9" font-size="13" font-family="Liberation Serif, Times New Roman, serif" fill="#1e1e1e" stroke="#1e1e1e" stroke-width="0.25">Speed</text>
</svg>
</body></html>
